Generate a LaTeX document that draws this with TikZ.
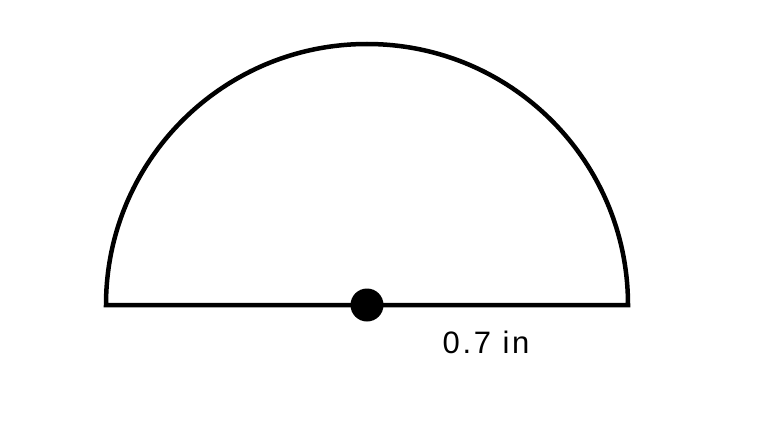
\documentclass[tikz,border=0pt]{standalone}
\usepackage{fontspec}
\setmainfont{Liberation Sans}
\begin{document}
\begin{tikzpicture}[x=1pt,y=-1pt,
  shape line/.style={line width=4.5pt, line join=miter},
  centerdot/.style={circle, fill=black, inner sep=0pt, minimum size=33pt},
  lbl/.style={font=\fontsize{31}{36}\selectfont\addfontfeature{LetterSpace=9}, inner sep=0pt}]
\useasboundingbox[fill=white] (0,0) rectangle (762,428);
\coordinate (L) at (106,305);
\coordinate (R) at (628,305);
\draw[shape line] (L) arc[start angle=180, end angle=360, radius=261] -- cycle;
\node[centerdot] (C) at (367,305) {};
\node[lbl] (T) at (486,342) {0.7 in};
\end{tikzpicture}
\end{document}
